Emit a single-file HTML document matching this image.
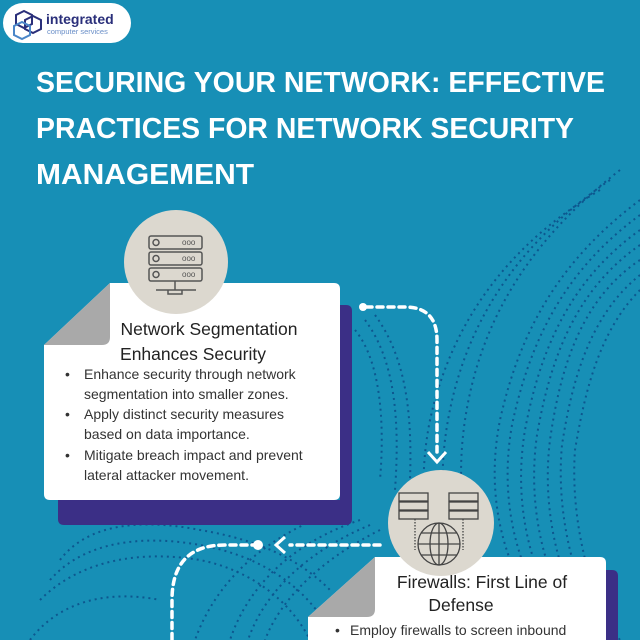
<!DOCTYPE html>
<html><head><style>body{margin:0}svg{display:block}</style></head><body>
<svg width="640" height="640" viewBox="0 0 640 640" xmlns="http://www.w3.org/2000/svg" font-family="Liberation Sans, sans-serif">
<rect width="640" height="640" fill="#178fb6"/>
<g stroke="#0b4a86" stroke-width="2" stroke-dasharray="2 4" fill="none" opacity="0.8">
<path d="M640 200 C560 260 520 330 500 420 C480 520 520 600 560 640"/>
<path d="M640 215 C565 270 530 340 512 425 C495 520 530 600 570 640"/>
<path d="M640 230 C570 280 540 350 525 430 C510 520 540 600 580 640"/>
<path d="M640 245 C575 290 550 360 537 435 C525 520 552 600 590 640"/>
<path d="M640 260 C580 300 560 370 550 440 C540 520 565 600 600 640"/>
<path d="M640 275 C590 315 572 380 562 445 C555 520 578 600 610 640"/>
<path d="M640 290 C600 330 585 390 575 450 C570 520 590 600 620 640"/>
<path d="M620 170 C530 240 480 320 465 420 C450 520 480 600 520 640"/>
<path d="M610 180 C515 245 465 325 448 420 C430 520 460 600 500 640"/>
<path d="M600 190 C500 250 450 330 430 420 C410 520 440 600 480 640"/>
<path d="M360 520 C300 540 250 580 230 640"/>
<path d="M370 525 C310 550 265 590 248 640"/>
<path d="M380 530 C320 560 280 600 265 640"/>
<path d="M340 510 C280 530 220 570 195 640"/>
<path d="M60 560 C90 520 150 520 200 530 C260 540 300 560 330 590"/>
<path d="M50 580 C85 540 145 535 200 545 C255 555 295 580 320 615"/>
<path d="M40 600 C80 560 140 550 200 560 C250 570 290 600 310 640"/>
<path d="M30 640 C60 600 110 590 160 600"/>
<path d="M355 330 C380 360 385 420 380 480"/>
<path d="M365 320 C395 360 400 420 395 490"/>
<path d="M375 315 C408 360 412 420 410 480"/>
</g>
<rect x="3" y="3" width="128" height="40" rx="20" fill="#fff"/>
<g fill="none" stroke="#2a2f7a" stroke-width="2"><polygon points="24,11 32,15 32,24 24,28 16,24 16,15"/><polygon points="33,16 41,20 41,29 33,33 25,29 25,20"/><polygon points="22,22 30,26 30,35 22,39 14,35 14,26" stroke="#4a86c8"/></g>
<text x="46" y="24" font-size="14" font-weight="bold" fill="#2a2f7a">integrated</text>
<text x="47" y="34" font-size="7.5" fill="#6a8fc8">computer services</text>
<g fill="#fff" font-weight="bold" font-size="29">
<text x="36" y="92" textLength="569" lengthAdjust="spacingAndGlyphs">SECURING YOUR NETWORK: EFFECTIVE</text>
<text x="36" y="138" textLength="538" lengthAdjust="spacingAndGlyphs">PRACTICES FOR NETWORK SECURITY</text>
<text x="36" y="184" textLength="218" lengthAdjust="spacingAndGlyphs">MANAGEMENT</text>
</g>
<!-- card 1 -->
<path d="M340 305 H346 Q352 305 352 311 V519 Q352 525 346 525 H64 Q58 525 58 519 V500 H340 Z" fill="#3b2f86"/>
<path d="M110 283 H334 Q340 283 340 289 V494 Q340 500 334 500 H50 Q44 500 44 494 V345 Z" fill="#fff"/>
<path d="M110 283 V337 Q110 345 102 345 H44 Z" fill="#a9a9a9"/>
<circle cx="176" cy="262" r="52" fill="#dcd8cf"/>
<g fill="none" stroke="#555" stroke-width="1.5">
<rect x="149" y="236" width="53" height="13" rx="2"/><rect x="149" y="252" width="53" height="13" rx="2"/><rect x="149" y="268" width="53" height="13" rx="2"/>
<circle cx="156" cy="242.5" r="3"/><circle cx="156" cy="258.5" r="3"/><circle cx="156" cy="274.5" r="3"/>
<path d="M175 281 V290 M156 290 H196 M168 290 h14 v4 h-14 z"/>
</g>
<g fill="#555"><text x="182" y="245" font-size="8">ooo</text><text x="182" y="261" font-size="8">ooo</text><text x="182" y="277" font-size="8">ooo</text></g>
<g fill="#222" font-size="17.5" text-anchor="middle"><text x="209" y="335">Network Segmentation</text><text x="193" y="360">Enhances Security</text></g>
<g fill="#333" font-size="14">
<text x="65" y="379">•</text><text x="84" y="379">Enhance security through network</text>
<text x="84" y="399">segmentation into smaller zones.</text>
<text x="65" y="419">•</text><text x="84" y="419">Apply distinct security measures</text>
<text x="84" y="439">based on data importance.</text>
<text x="65" y="460">•</text><text x="84" y="460">Mitigate breach impact and prevent</text>
<text x="84" y="480">lateral attacker movement.</text>
</g>
<g fill="none" stroke="#fff" stroke-width="3.5" stroke-dasharray="6 5" stroke-linecap="round">
<path d="M366 307 H405 Q437 307 437 340 V452"/>
<path d="M380 545 H290"/>
<path d="M258 545 H225 Q172 545 172 600 V640"/>
</g>
<circle cx="363" cy="307" r="4" fill="#fff"/>
<circle cx="258" cy="545" r="5" fill="#fff"/>
<path d="M428 452 L437 462 L446 452" fill="none" stroke="#fff" stroke-width="3"/>
<path d="M285 537 L276 545 L285 553" fill="none" stroke="#fff" stroke-width="3"/>
<!-- card 2 -->
<path d="M606 570 H612 Q618 570 618 576 V640 H606 Z" fill="#3b2f86"/>
<path d="M375 557 H600 Q606 557 606 563 V640 H308 V617 Z" fill="#fff"/>
<path d="M375 557 V609 Q375 617 367 617 H308 Z" fill="#a9a9a9"/>
<circle cx="441" cy="523" r="53" fill="#dcd8cf"/>
<g fill="none" stroke="#444" stroke-width="1.3">
<rect x="399" y="493" width="29" height="8"/><rect x="399" y="502" width="29" height="8"/><rect x="399" y="511" width="29" height="8"/>
<rect x="449" y="493" width="29" height="8"/><rect x="449" y="502" width="29" height="8"/><rect x="449" y="511" width="29" height="8"/>
<path d="M415 519 V550 M463 519 V550" stroke-dasharray="1.5 1.5"/>
<circle cx="439" cy="544" r="21"/><ellipse cx="439" cy="544" rx="9" ry="21"/><path d="M439 523 V565 M418 544 H460 M421 533 H457 M421 555 H457"/>
</g>
<g fill="#222" font-size="17.5" text-anchor="middle"><text x="482" y="588">Firewalls: First Line of</text><text x="461" y="611">Defense</text></g>
<g fill="#333" font-size="14"><text x="335" y="635">•</text><text x="350" y="635">Employ firewalls to screen inbound</text></g>
</svg>
</body></html>
